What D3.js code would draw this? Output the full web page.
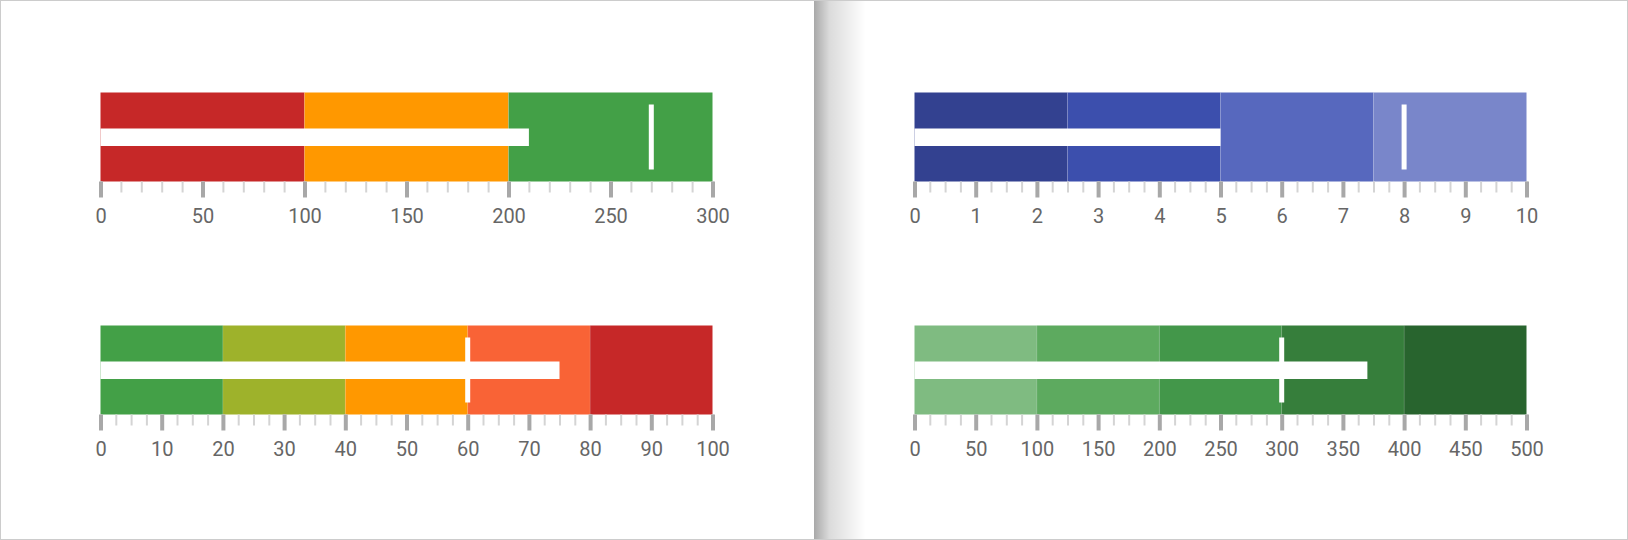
<!DOCTYPE html>
<html lang="en">
<head>
    <meta charset="UTF-8">
    <title>Bullet Charts</title>
    <script src="https://d3js.org/d3.v7.min.js"></script>
    <style>
        body { margin: 0; background: #fff; }
        .tick text { font: 20px Roboto, sans-serif; fill: #666; }
        .minor .tick line { stroke: #d4d4d4; stroke-width: 2px; }
        .major .tick line { stroke: #a8a8a8; stroke-width: 4px; }
    </style>
</head>
<body>
    <svg width="1628" height="540"></svg>

    <script>
        // one entry per bullet: top-left, top-right, bottom-left, bottom-right
        const maxValues = [300, 10, 100, 500];
        const rangeBreaks = [
            [100, 200, 300],
            [2.5, 5, 7.5, 10],
            [20, 40, 60, 80, 100],
            [100, 200, 300, 400, 500]
        ];
        const measures = [210, 5, 75, 370];
        const targets = [270, 8, 60, 300];
        const majorSteps = [50, 1, 10, 50];
        const minorSteps = [10, 0.25, 2.5, 12.5];

        const palettes = [
            ["#c62828", "#ff9800", "#43a047"],
            ["#334190", "#3c4fad", "#5768be", "#7986ca"],
            ["#43a047", "#9eb22b", "#ff9800", "#f96336", "#c62828"],
            ["#7fbb81", "#5daa5f", "#43974a", "#367e3b", "#28642e"]
        ];

        const svg = d3.select("svg");
        const W = 1628, H = 540;

        // card shadow on the right panel's left edge
        const grad = svg.append("defs").append("linearGradient").attr("id", "shade");
        grad.append("stop").attr("offset", "0%").attr("stop-color", "#000").attr("stop-opacity", 0.34);
        grad.append("stop").attr("offset", "30%").attr("stop-color", "#000").attr("stop-opacity", 0.14);
        grad.append("stop").attr("offset", "100%").attr("stop-color", "#000").attr("stop-opacity", 0);
        svg.append("rect").attr("x", 814).attr("y", 0).attr("width", 52).attr("height", H)
            .attr("fill", "url(#shade)");

        svg.append("rect").attr("x", 0.5).attr("y", 0.5).attr("width", W - 1).attr("height", H - 1)
            .attr("fill", "none").attr("stroke", "#ccc");

        const colX = [100.5, 914.5];
        const rowY = [92.5, 325.5];
        const barW = 612, barH = 89;

        maxValues.forEach((mx, i) => {
            const g = svg.append("g")
                .attr("transform", `translate(${colX[i % 2]},${rowY[Math.floor(i / 2)]})`);
            const x = d3.scaleLinear().domain([0, mx]).range([0, barW]);

            // qualitative ranges
            const starts = [0].concat(rangeBreaks[i].slice(0, -1));
            g.selectAll("rect.range")
                .data(rangeBreaks[i])
                .enter().append("rect")
                .attr("class", "range")
                .attr("x", (d, j) => x(starts[j]))
                .attr("y", 0)
                .attr("width", (d, j) => x(d) - x(starts[j]))
                .attr("height", barH)
                .attr("fill", (d, j) => palettes[i][j]);

            // faint separators between ranges
            g.selectAll("line.sep")
                .data(starts.slice(1))
                .enter().append("line")
                .attr("x1", d => x(d)).attr("x2", d => x(d))
                .attr("y1", 0).attr("y2", barH)
                .attr("stroke", "rgba(255,255,255,0.12)");

            // measure bar
            g.append("rect")
                .attr("x", 0).attr("y", barH / 2 - 8.5)
                .attr("width", x(measures[i])).attr("height", 17.5)
                .attr("fill", "#fff");

            // target marker
            g.append("rect")
                .attr("x", x(targets[i]) - 2.5).attr("y", barH / 2 - 32.5)
                .attr("width", 5).attr("height", 65)
                .attr("fill", "#fff");

            // minor ticks
            const minorVals = d3.range(0, mx + minorSteps[i] / 2, minorSteps[i]);
            g.append("g").attr("class", "minor")
                .attr("transform", `translate(0,${barH})`)
                .call(d3.axisBottom(x).tickValues(minorVals).tickSize(11).tickFormat(""))
                .call(a => a.select(".domain").remove());

            // major ticks with labels
            const majorVals = d3.range(0, mx + majorSteps[i] / 2, majorSteps[i]);
            g.append("g").attr("class", "major")
                .attr("transform", `translate(0,${barH})`)
                .call(d3.axisBottom(x).tickValues(majorVals).tickSize(16).tickPadding(11)
                    .tickFormat(d3.format("d")))
                .call(a => a.select(".domain").remove());
        });
    </script>
</body>
</html>
